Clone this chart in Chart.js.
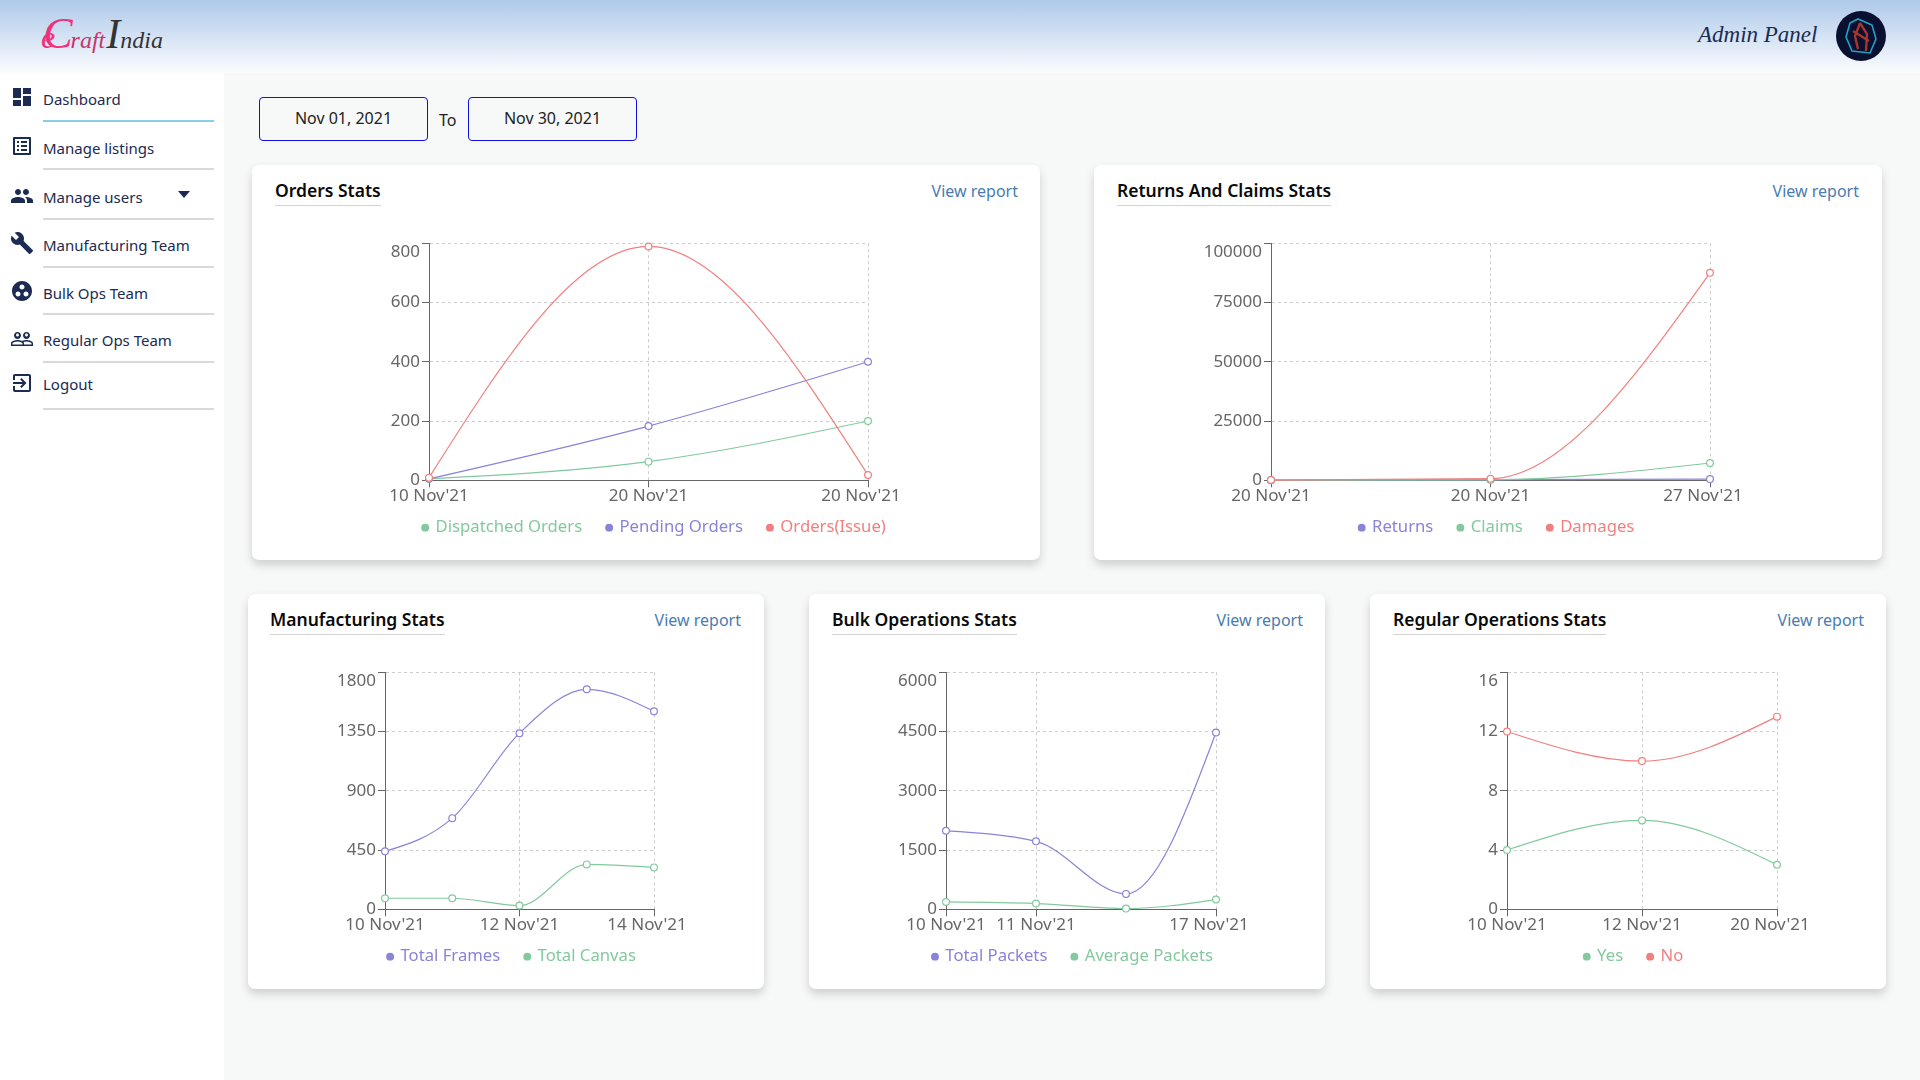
<!DOCTYPE html>
<html>
<head>
<meta charset="utf-8">
<title>Dashboard</title>
<script src="https://cdn.jsdelivr.net/npm/chart.js@4"></script>
<style>
html,body{margin:0;padding:0;width:1920px;height:1080px;overflow:hidden;background:#f7f9f9;font-family:"Noto Sans",sans-serif;color:#1b2b52}
.abs,.card,canvas,.nav,.rule,.ico{position:absolute}
#top{position:absolute;left:0;top:0;width:1920px;height:73px;background:linear-gradient(#aec9e9,#fbfcfe)}
#side{position:absolute;left:0;top:73px;width:224px;height:1007px;background:#fff}
.nav{left:43px;font-size:15px;line-height:22px;white-space:nowrap}
.rule{left:43px;width:171px;height:2px;background:#d9d9d9}
.ico{left:10px;width:24px;height:24px;fill:#1b2b52}
.date{position:absolute;top:97px;width:167px;height:42px;border:1.5px solid #1010e0;border-radius:4px;text-align:center;line-height:40px;font-size:16px;color:#222}
.card{background:#fff;border-radius:7px;box-shadow:0 5px 10px rgba(0,0,0,.17)}
.title{position:absolute;font-size:17.5px;font-weight:600;color:#0a0a0a;line-height:24px;padding-bottom:3px;border-bottom:1.5px solid #d4d4d4;white-space:nowrap}
.view{position:absolute;font-size:16px;color:#4a7cb0;line-height:24px;white-space:nowrap}
</style>
</head>
<body>
<div id="top"></div>
<div id="side"></div>

<div class="abs" style="left:41px;top:9px;font:italic 24px 'Liberation Serif';white-space:nowrap;color:#333;line-height:50px">
  <span style="color:#f0307a;font-size:32px;margin-right:-12px">e</span><span style="color:#f0307a;font-size:44px;margin-right:-2px">C</span><span style="color:#c8336a">raft</span><span style="font-size:42px;margin-left:1px">I</span><span>ndia</span>
</div>
<div class="abs" style="left:1698px;top:16px;font:italic 23px 'Liberation Serif';color:#1b2b52;line-height:38px;white-space:nowrap">Admin Panel</div>
<svg class="abs" style="left:1836px;top:11px" width="50" height="50" viewBox="0 0 50 50">
  <circle cx="25" cy="25" r="25" fill="#0a1030"/>
  <path d="M14 12 L22 8 L36 14 L40 28 L34 42 L16 40 L10 26 Z" fill="none" stroke="#1fa3c4" stroke-width="1.6"/>
  <path d="M24 12 L19 25 L22 38 M24 12 L31 23 L30 40 M17 20 L33 30" fill="none" stroke="#a8362c" stroke-width="2.4"/>
</svg>

<svg class="ico" style="top:85px" viewBox="0 0 24 24"><path d="M3 13h8V3H3v10zm0 8h8v-6H3v6zm10 0h8V11h-8v10zm0-18v6h8V3h-8z"/></svg>
<svg class="ico" style="top:134px" viewBox="0 0 24 24"><path d="M19 5v14H5V5h14m1.1-2H3.9c-.5 0-.9.4-.9.9v16.2c0 .4.4.9.9.9h16.2c.4 0 .9-.5.9-.9V3.9c0-.5-.5-.9-.9-.9zM11 7h6v2h-6V7zm0 4h6v2h-6v-2zm0 4h6v2h-6zM7 7h2v2H7zm0 4h2v2H7zm0 4h2v2H7z"/></svg>
<svg class="ico" style="top:184px" viewBox="0 0 24 24"><path d="M16 11c1.66 0 2.99-1.34 2.99-3S17.66 5 16 5c-1.66 0-3 1.34-3 3s1.34 3 3 3zm-8 0c1.66 0 2.99-1.34 2.99-3S9.66 5 8 5C6.34 5 5 6.34 5 8s1.34 3 3 3zm0 2c-2.33 0-7 1.17-7 3.5V19h14v-2.5c0-2.33-4.67-3.5-7-3.5zm8 0c-.29 0-.62.02-.97.05 1.16.84 1.97 1.97 1.97 3.45V19h6v-2.5c0-2.33-4.67-3.5-7-3.5z"/></svg>
<svg class="ico" style="top:231px" viewBox="0 0 24 24"><path d="M22.7 19l-9.1-9.1c.9-2.3.4-5-1.5-6.9-2-2-5-2.4-7.4-1.3L9 6 6 9 1.6 4.7C.4 7.1.9 10.1 2.9 12.1c1.9 1.9 4.6 2.4 6.9 1.5l9.1 9.1c.4.4 1 .4 1.4 0l2.3-2.3c.5-.4.5-1.1.1-1.4z"/></svg>
<svg class="ico" style="top:279px" viewBox="0 0 24 24"><path d="M12 2C6.48 2 2 6.48 2 12s4.48 10 10 10 10-4.48 10-10S17.52 2 12 2zM8 17.5c-1.38 0-2.5-1.12-2.5-2.5s1.12-2.5 2.5-2.5 2.5 1.12 2.5 2.5-1.12 2.5-2.5 2.5zM9.5 8c0-1.38 1.12-2.5 2.5-2.5s2.5 1.12 2.5 2.5-1.12 2.5-2.5 2.5S9.5 9.38 9.5 8zm6.5 9.5c-1.38 0-2.5-1.12-2.5-2.5s1.12-2.5 2.5-2.5 2.5 1.12 2.5 2.5-1.12 2.5-2.5 2.5z"/></svg>
<svg class="ico" style="top:327px" viewBox="0 0 24 24"><path d="M16.5 13c-1.2 0-3.07.34-4.5 1-1.43-.67-3.3-1-4.5-1C5.33 13 1 14.08 1 16.25V19h22v-2.75c0-2.17-4.33-3.25-6.5-3.25zm-4 4.5h-10v-1.25c0-.54 2.56-1.75 5-1.75s5 1.21 5 1.75v1.25zm9 0H14v-1.25c0-.46-.2-.86-.52-1.22.88-.3 1.96-.53 3.02-.53 2.44 0 5 1.21 5 1.75v1.25zM7.5 12c1.93 0 3.5-1.57 3.5-3.5S9.43 5 7.5 5 4 6.57 4 8.5 5.57 12 7.5 12zm0-5.5c.83 0 1.5.67 1.5 1.5s-.67 1.5-1.5 1.5S6 8.83 6 8s.67-1.5 1.5-1.5zm9 5.5c1.93 0 3.5-1.57 3.5-3.5S18.43 5 16.5 5 13 6.57 13 8.5s1.57 3.5 3.5 3.5zm0-5.5c.83 0 1.5.67 1.5 1.5s-.67 1.5-1.5 1.5S15 8.83 15 8s.67-1.5 1.5-1.5z"/></svg>
<svg class="ico" style="top:371px" viewBox="0 0 24 24"><path d="M10.09 15.59L11.5 17l5-5-5-5-1.41 1.41L12.67 11H3v2h9.67l-2.58 2.59zM19 3H5c-1.11 0-2 .9-2 2v4h2V5h14v14H5v-4H3v4c0 1.1.89 2 2 2h14c1.1 0 2-.9 2-2V5c0-1.1-.9-2-2-2z"/></svg>

<div class="nav" style="top:88px">Dashboard</div><div class="rule" style="top:120px;background:#87ceeb"></div>
<div class="nav" style="top:137px">Manage listings</div><div class="rule" style="top:168px"></div>
<div class="nav" style="top:186px">Manage users</div><div class="rule" style="top:218px"></div>
<svg class="abs" style="left:178px;top:191px" width="12" height="8"><path d="M0 0H12L6 7Z" fill="#1b2b52"/></svg>
<div class="nav" style="top:234px">Manufacturing Team</div><div class="rule" style="top:266px"></div>
<div class="nav" style="top:282px">Bulk Ops Team</div><div class="rule" style="top:313px"></div>
<div class="nav" style="top:329px">Regular Ops Team</div><div class="rule" style="top:361px"></div>
<div class="nav" style="top:373px">Logout</div><div class="rule" style="top:408px"></div>

<div class="date" style="left:259px">Nov 01, 2021</div>
<div class="abs" style="left:439px;top:108px;font-size:16px;line-height:24px;color:#222">To</div>
<div class="date" style="left:468px">Nov 30, 2021</div>

<div class="card" style="left:252px;top:165px;width:788px;height:395px"></div>
<div class="card" style="left:1094px;top:165px;width:788px;height:395px"></div>
<div class="card" style="left:248px;top:594px;width:516px;height:395px"></div>
<div class="card" style="left:809px;top:594px;width:516px;height:395px"></div>
<div class="card" style="left:1370px;top:594px;width:516px;height:395px"></div>

<div class="title" style="left:275px;top:178px">Orders Stats</div>
<div class="view" style="right:902px;top:179px">View report</div>
<div class="title" style="left:1117px;top:178px">Returns And Claims Stats</div>
<div class="view" style="right:61px;top:179px">View report</div>
<div class="title" style="left:270px;top:607px">Manufacturing Stats</div>
<div class="view" style="right:1179px;top:608px">View report</div>
<div class="title" style="left:832px;top:607px">Bulk Operations Stats</div>
<div class="view" style="right:617px;top:608px">View report</div>
<div class="title" style="left:1393px;top:607px">Regular Operations Stats</div>
<div class="view" style="right:56px;top:608px">View report</div>

<canvas id="ordersChart" width="591" height="329" style="left:359px;top:231px"></canvas>
<canvas id="returnsChart" width="592" height="329" style="left:1201px;top:231px"></canvas>
<canvas id="manufacturingChart" width="394" height="329" style="left:315px;top:660px"></canvas>
<canvas id="bulkChart" width="394" height="329" style="left:876px;top:660px"></canvas>
<canvas id="regularChart" width="394" height="329" style="left:1437px;top:660px"></canvas>

<script>
const purple = '#8884d8';
const green = '#82ca9d';
const red = '#f27f7f';

const ordersDates = ["10 Nov'21", "20 Nov'21", "20 Nov'21"];
const dispatchedOrders = [5, 63, 200];
const pendingOrders = [5, 183, 400];
const issueOrders = [9, 789, 18];

const returnsDates = ["20 Nov'21", "20 Nov'21", "27 Nov'21"];
const returnsValues = [50, 300, 500];
const claimsValues = [50, 200, 7300];
const damagesValues = [100, 700, 87500];

// only some days get a tick in the original, the rest stay blank
const manufacturingDates = ["10 Nov'21", '', "12 Nov'21", '', "14 Nov'21"];
const totalFrames = [440, 692, 1337, 1670, 1503];
const totalCanvas = [84, 84, 28, 341, 318];

const bulkDates = ["10 Nov'21", "11 Nov'21", '', "17 Nov'21"];
const totalPackets = [1985, 1720, 390, 4475];
const averagePackets = [186, 145, 18, 247];

const regularDates = ["10 Nov'21", "12 Nov'21", "20 Nov'21"];
const yesValues = [4, 6, 3];
const noValues = [12, 10, 13];

Chart.defaults.font.family = '"Noto Sans", sans-serif';
Chart.defaults.font.size = 17;
Chart.defaults.color = '#666';

// same tangents as the monotone curve the original used
function monotoneSlopes(pts) {
    const n = pts.length;
    const s = [];
    for (let i = 0; i < n - 1; i++) s.push((pts[i+1].y - pts[i].y) / (pts[i+1].x - pts[i].x));
    const t = new Array(n);
    for (let i = 1; i < n - 1; i++) {
        const h0 = pts[i].x - pts[i-1].x, h1 = pts[i+1].x - pts[i].x;
        const p = (s[i-1] * h1 + s[i] * h0) / (h0 + h1);
        t[i] = (Math.sign(s[i-1]) + Math.sign(s[i])) * Math.min(Math.abs(s[i-1]), Math.abs(s[i]), 0.5 * Math.abs(p)) || 0;
    }
    t[0] = (3 * s[0] - t[1]) / 2;
    t[n-1] = (3 * s[n-2] - t[n-2]) / 2;
    return t;
}

const curvePlugin = {
    id: 'curve',
    afterDatasetsUpdate(chart) {
        chart.getSortedVisibleDatasetMetas().forEach(meta => {
            meta.dataset.updateControlPoints(chart.chartArea, 'x');
            const pts = meta.data;
            const t = monotoneSlopes(pts);
            for (let i = 0; i < pts.length - 1; i++) {
                const h = (pts[i+1].x - pts[i].x) / 3;
                pts[i].cp2x = pts[i].x + h;
                pts[i].cp2y = pts[i].y + h * t[i];
                pts[i+1].cp1x = pts[i+1].x - h;
                pts[i+1].cp1y = pts[i+1].y - h * t[i+1];
            }
        });
    }
};

// end labels sit inside the plot: top y label drops, last x label moves left
const endLabelsPlugin = {
    id: 'endLabels',
    afterLayout(chart) {
        chart.legend.top -= 14;
        chart.legend.bottom -= 14;
    },
    afterUpdate(chart) {
        const xItems = chart.scales.x.getLabelItems();
        const yItems = chart.scales.y.getLabelItems();
        xItems[xItems.length - 1].options.translation[0] -= 7;
        yItems[yItems.length - 1].options.translation[1] += 9;
    }
};

function line(label, data, color, i) {
    return {
        label: label,
        data: data,
        borderColor: color,
        backgroundColor: color,
        borderWidth: 1.2,
        pointRadius: 3.4,
        pointBorderWidth: 1.2,
        pointBackgroundColor: '#fff',
        pointBorderColor: color,
        cubicInterpolationMode: 'monotone',
        clip: false,
        order: -i
    };
}

function makeChart(id, labels, datasets, yMax, yStep, plotWidth) {
    const canvas = document.getElementById(id);
    new Chart(canvas, {
        type: 'line',
        data: { labels: labels, datasets: datasets.map((d, i) => line(d[0], d[1], d[2], i)) },
        plugins: [curvePlugin, endLabelsPlugin],
        options: {
            responsive: false,
            animation: false,
            layout: { padding: { top: 10 } },
            plugins: {
                tooltip: { enabled: false },
                legend: {
                    position: 'bottom',
                    labels: {
                        usePointStyle: true,
                        boxWidth: 4,
                        boxHeight: 5.6,
                        padding: 25,
                        font: { size: 16.7 },
                        generateLabels: chart => chart.data.datasets.map(d => ({
                            text: d.label,
                            fillStyle: d.borderColor,
                            strokeStyle: d.borderColor,
                            fontColor: d.borderColor,
                            lineWidth: 0,
                            pointStyle: 'circle'
                        }))
                    }
                }
            },
            scales: {
                x: {
                    afterBuildTicks: s => { s.ticks = s.ticks.filter(t => s.getLabelForValue(t.value) !== ''); },
                    afterFit: s => { s.height = 28; },
                    grid: { color: '#ccc', tickColor: '#666', tickLength: 7 },
                    border: { color: '#666', dash: [3, 3] },
                    ticks: { autoSkip: false, maxRotation: 0, padding: -1, color: '#666' }
                },
                y: {
                    min: 0,
                    max: yMax,
                    afterFit: s => { s.width = 70; },
                    grid: { color: '#ccc', tickColor: '#666', tickLength: 7 },
                    border: { color: '#666', dash: [3, 3] },
                    ticks: { stepSize: yStep, padding: 2, color: '#666', callback: v => String(v) }
                },
                // empty axis, only holds the space right of the plot
                y2: {
                    position: 'right',
                    afterFit: s => { s.width = canvas.width - 70 - plotWidth; },
                    grid: { display: false },
                    border: { display: false },
                    ticks: { display: false }
                }
            }
        }
    });
}

makeChart('ordersChart', ordersDates, [
    ['Dispatched Orders', dispatchedOrders, green],
    ['Pending Orders', pendingOrders, purple],
    ['Orders(Issue)', issueOrders, red]
], 800, 200, 439);

makeChart('returnsChart', returnsDates, [
    ['Returns', returnsValues, purple],
    ['Claims', claimsValues, green],
    ['Damages', damagesValues, red]
], 100000, 25000, 439);

makeChart('manufacturingChart', manufacturingDates, [
    ['Total Frames', totalFrames, purple],
    ['Total Canvas', totalCanvas, green]
], 1800, 450, 269);

makeChart('bulkChart', bulkDates, [
    ['Total Packets', totalPackets, purple],
    ['Average Packets', averagePackets, green]
], 6000, 1500, 270);

makeChart('regularChart', regularDates, [
    ['Yes', yesValues, green],
    ['No', noValues, red]
], 16, 4, 270);
</script>
</body>
</html>
